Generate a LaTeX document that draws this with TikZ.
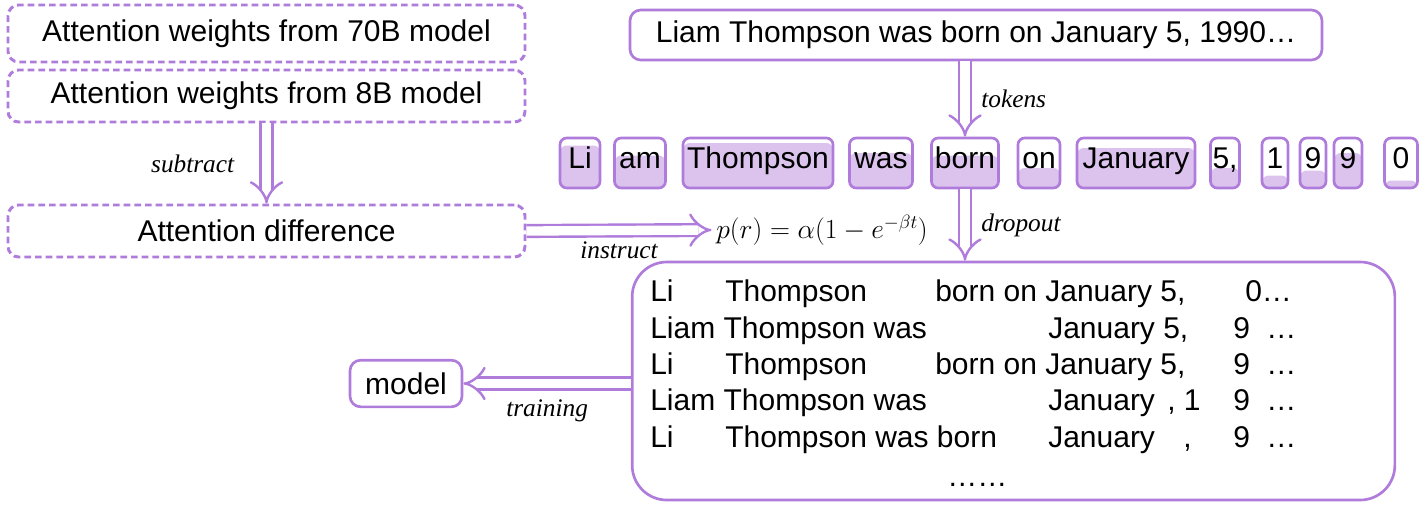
\documentclass[tikz,border=0pt]{standalone}
\usepackage{fontspec}
\setmainfont{Liberation Sans}
\newfontfamily\lblfont{Liberation Serif}
\usetikzlibrary{arrows.meta,calc}
\definecolor{pur}{HTML}{B07CDC}
\definecolor{pfill}{HTML}{DCC3EE}
\begin{document}
\begin{tikzpicture}[x=0.75pt,y=-0.75pt,
  font=\fontsize{22.5}{26}\selectfont,
  dbox/.style={draw=pur,line width=2.2pt,dash pattern=on 5pt off 3pt,rounded corners=8pt,minimum width=387.75pt,minimum height=#1,inner sep=0pt},
  sbox/.style={draw=pur,line width=2pt,rounded corners=8pt,inner sep=0pt},
  tok/.style 2 args={draw=pur,line width=2pt,rounded corners=5pt,minimum width=#1*0.75pt,minimum height=37.5pt,inner sep=0pt,text height=12pt,text depth=4pt,
    path picture={\fill[pfill] (path picture bounding box.south west) rectangle ($(path picture bounding box.south east)!#2!(path picture bounding box.north east)$);}},
  dar/.style={draw=pur,double=white,line width=1.8pt,double distance=7pt,-{Implies[length=11pt,width=20pt]}},
  lbl/.style={font=\lblfont\itshape\fontsize{19}{22}\selectfont},
  txt/.style={anchor=base west,inner sep=0pt}
]
\useasboundingbox (0,0) rectangle (1426,515);
\node[dbox=42.75pt] (w70) at (266.5,33.5) {Attention weights from 70B model};
\node[dbox=39pt] (w8) at (266.5,96) {Attention weights from 8B model};
\node[dbox=39pt] (diff) at (266.5,231) {Attention difference};
\draw[dar] (w8.south) -- (diff.north) node[midway,left=20pt,lbl]{subtract};
\node (form) at (822,230) {$p(r)=\alpha(1-e^{-\beta t})$};
\draw[dar] (diff.east) -- (form.west) node[midway,below=4pt,lbl]{instruct};

\node[sbox,minimum width=519pt,minimum height=37.5pt] (sent) at (976,35) {Liam Thompson was born on January 5, 1990…};

\foreach \n/\x/\w/\f/\t in {t1/580/40/0.85/Li,t2/640/51/0.65/am,t3/758/150/0.9/Thompson,t4/881/63/0.7/was,t5/965/67/0.65/born,t6/1039/42/0.4/on,t7/1136/118/0.8/January,t8/1225/29/0.4/{5,},t9/1275/26/0.25/1,t10/1313/26/0.35/9,t11/1348/28/0.7/9,t12/1401/33/0.15/0}
  \node[tok={\w}{\f}] (\n) at (\x,163) {\t};

\draw[dar] (sent.south -| t5) -- (t5.north) node[midway,right=8pt,lbl]{tokens};

\node[draw=pur,line width=2pt,rounded corners=26pt,minimum width=572pt,minimum height=178.5pt,inner sep=0pt] (big) at (1013.5,381) {};
\draw[dar] (t5.south) -- (t5.south |- big.north) node[midway,right=8pt,lbl]{dropout};

\node[sbox,minimum width=84pt,minimum height=35pt] (model) at (406,383.5) {model};
\draw[dar] (big.west |- model) -- (model.east) node[midway,below=8pt,lbl]{training};

% text rows
\node[txt] at (650,301) {Li};
\node[txt] at (725,301) {Thompson};
\node[txt] at (935,301) {born on January 5,};
\node[txt] at (1245,301) {0…};
\node[txt] at (650,338) {Liam Thompson was};
\node[txt] at (1048,338) {January 5,};
\node[txt] at (1233,338) {9};
\node[txt] at (1266,338) {…};
\node[txt] at (650,374) {Li};
\node[txt] at (725,374) {Thompson};
\node[txt] at (935,374) {born on January 5,};
\node[txt] at (1233,374) {9};
\node[txt] at (1266,374) {…};
\node[txt] at (650,410) {Liam Thompson was};
\node[txt] at (1048,410) {January};
\node[txt] at (1167,410) {, 1};
\node[txt] at (1233,410) {9};
\node[txt] at (1266,410) {…};
\node[txt] at (650,447) {Li};
\node[txt] at (725,447) {Thompson was born};
\node[txt] at (1048,447) {January};
\node[txt] at (1183,447) {,};
\node[txt] at (1233,447) {9};
\node[txt] at (1266,447) {…};
\node[txt] at (947,486) {……};
\end{tikzpicture}
\end{document}
